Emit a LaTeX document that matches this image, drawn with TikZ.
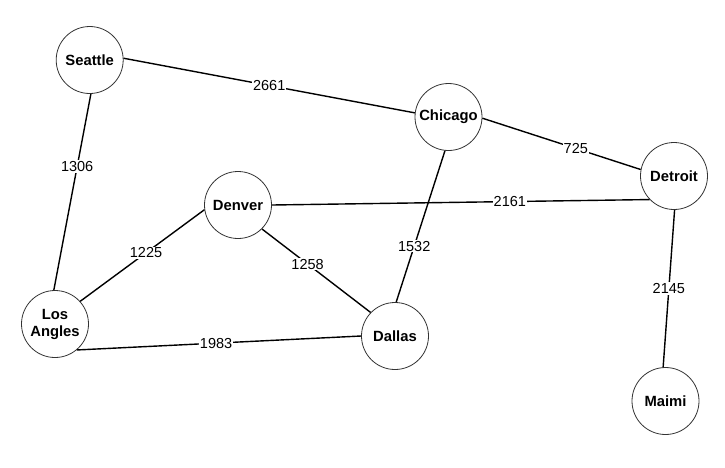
\documentclass[tikz,border=0pt]{standalone}
\usepackage{fontspec}
\setmainfont{Liberation Sans}
\usepackage{tikz}

\begin{document}
\begin{tikzpicture}[x=1pt,y=1pt]
\tikzstyle{every node}+=[inner sep=0pt]
\tikzstyle{city}=[draw=black!80,line width=0.8pt,circle,minimum size=67pt,align=center,font=\fontsize{14.8}{17}\selectfont\bfseries]
\tikzstyle{dist}=[fill=white,inner sep=1pt,font=\fontsize{14.5}{16}\selectfont]
\tikzstyle{road}=[black,line width=1.4pt]
\useasboundingbox (0,0) rectangle (725,-467);
\node [city] (sea) at (89.7,-60) {Seattle};
\node [city] (chi) at (448.5,-117) {Chicago};
\node [city] (det) at (674,-176) {Detroit};
\node [city] (den) at (238,-205) {Denver};
\node [city] (la) at (55,-324) {Los\\Angles};
\node [city] (dal) at (395,-336) {Dallas};
\node [city] (mia) at (665.5,-401) {Maimi};
\draw [road] (sea.3) -- node [dist,pos=0.5] {2661} (chi.173);
\draw [road] (chi.-2) -- node [dist,pos=0.59] {725} (det.169);
\draw [road] (sea.-88) -- node [dist,pos=0.37] {1306} (la.92);
\draw [road] (den.east) -- node [dist,pos=0.63] {2161} (det.224);
\draw [road] (la.42) -- node [dist,pos=0.53] {1225} (den.188);
\draw [road] (den.-45) -- node [dist,pos=0.42] {1258} (dal.136);
\draw [road] (chi.-96) -- node [dist,pos=0.63] {1532} (dal.88);
\draw [road] (la.-50) -- node [dist,pos=0.49] {1983} (dal.west);
\draw [road] (det.-89) -- node [dist,pos=0.5] {2145} (mia.94);
\end{tikzpicture}
\end{document}
